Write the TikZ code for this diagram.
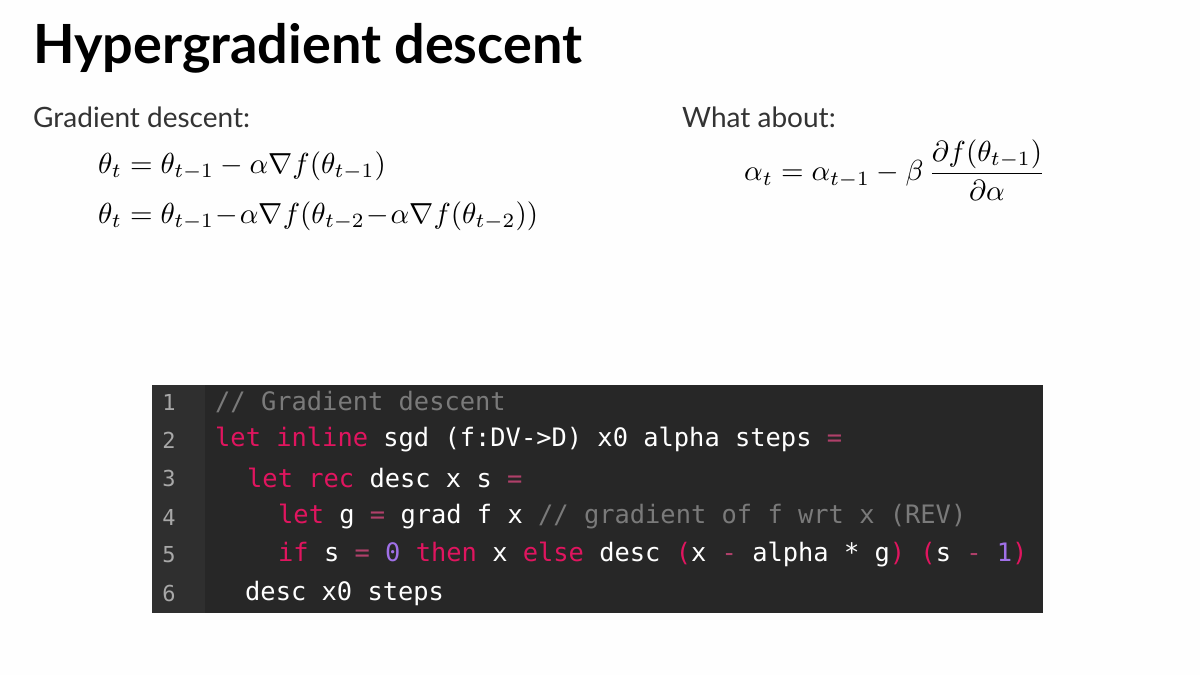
\documentclass[tikz,border=0pt]{standalone}
\usepackage{fontspec}
\setmainfont{Lato}
\setmonofont{DejaVu Sans Mono}
\usepackage{amsmath,graphicx}
\definecolor{bg}{HTML}{FEFEFE}
\definecolor{codebg}{HTML}{272727}
\definecolor{gut}{HTML}{2F2F2F}
\definecolor{kw}{HTML}{E0155F}
\definecolor{cm}{HTML}{7A7A7A}
\definecolor{num}{HTML}{A070E8}
\definecolor{ln}{HTML}{A8A8A8}
\definecolor{eqc}{HTML}{B0406A}
\begin{document}
\begin{tikzpicture}[x=1pt,y=-1pt,
  codeline/.style={anchor=west,inner sep=0pt,text=white,font=\fontsize{25.4}{25.4}\selectfont\ttfamily},
  lnum/.style={anchor=center,inner sep=0pt,text=ln,font=\fontsize{22}{22}\selectfont\ttfamily},
  lbl/.style={anchor=west,inner sep=0pt,text=black!80,font=\fontsize{28}{28}\selectfont},
  eq/.style={anchor=west,inner sep=0pt}]
\useasboundingbox (0,0) rectangle (1200,675);
\fill[bg] (0,0) rectangle (1200,675);
\node[anchor=west,inner sep=0pt,font=\fontsize{54}{54}\selectfont\bfseries] (title) at (33,48) {Hypergradient descent};
\node[lbl] (gd) at (33,117) {Gradient descent:};
\node[lbl] (wa) at (682,117) {What about:};
\node[eq] (e1) at (98,166) {\scalebox{2.9}{$\theta_t = \theta_{t-1} - \alpha\nabla f(\theta_{t-1})$}};
\node[eq] (e2) at (98,216) {\scalebox{2.9}{$\theta_t = \theta_{t-1}\!-\!\alpha\nabla f(\theta_{t-2}\!-\!\alpha\nabla f(\theta_{t-2}))$}};
\node[eq] (e3) at (744,170) {\scalebox{2.9}{$\alpha_t = \alpha_{t-1} - \beta\,\dfrac{\partial f(\theta_{t-1})}{\partial\alpha}$}};
\fill[codebg] (152,385) rectangle (1043,613);
\fill[gut] (152,385) rectangle (205,613);
\foreach \i/\y in {1/402,2/440,3/478,4/517,5/555,6/593}
  \node[lnum] (n\i) at (169,\y) {\i};
\node[codeline] (c1) at (215,402) {\textcolor{cm}{// Gradient descent}};
\node[codeline] (c2) at (215,440) {\textcolor{kw}{let inline} sgd (f:DV->D) x0 alpha steps \textcolor{eqc}{=}};
\node[codeline] (c3) at (247,478) {\textcolor{kw}{let rec} desc x s \textcolor{eqc}{=}};
\node[codeline] (c4) at (278,517) {\textcolor{kw}{let} g \textcolor{eqc}{=} grad f x \textcolor{cm}{// gradient of f wrt x (REV)}};
\node[codeline] (c5) at (278,555) {\textcolor{kw}{if} s \textcolor{eqc}{=} \textcolor{num}{0} \textcolor{kw}{then} x \textcolor{kw}{else} desc \textcolor{kw}{(}x \textcolor{eqc}{-} alpha * g\textcolor{kw}{)} \textcolor{kw}{(}s \textcolor{eqc}{-} \textcolor{num}{1}\textcolor{kw}{)}};
\node[codeline] (c6) at (245,593) {desc x0 steps};
\end{tikzpicture}
\end{document}
